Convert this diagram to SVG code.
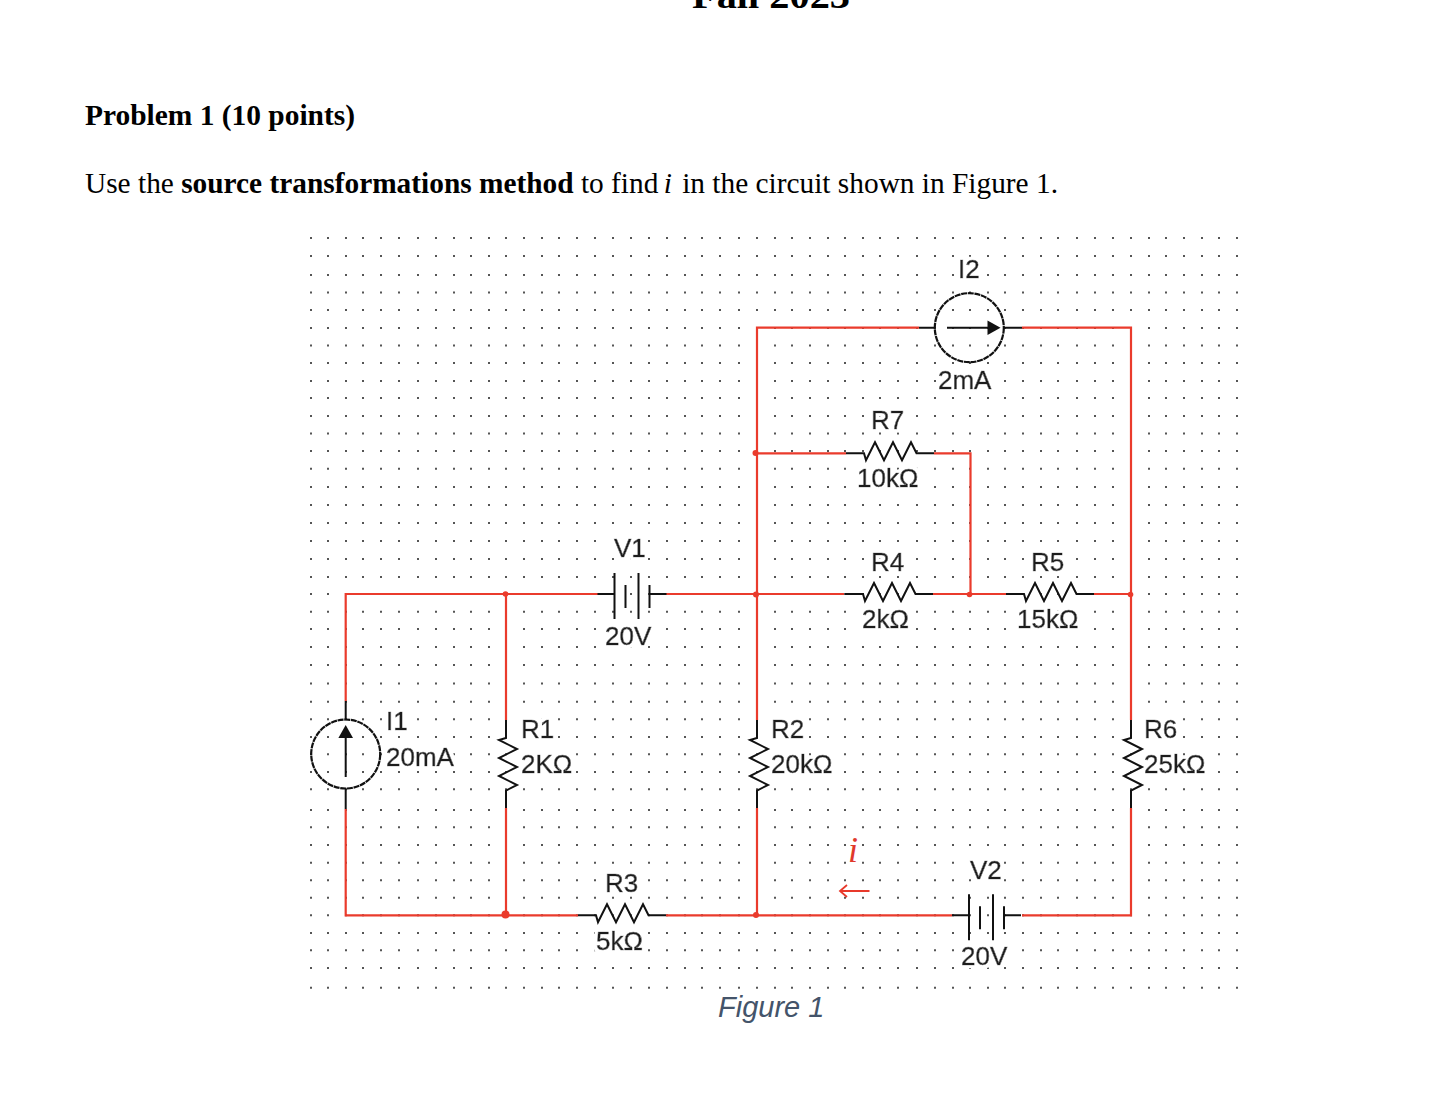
<svg xmlns="http://www.w3.org/2000/svg" width="1448" height="1118" viewBox="0 0 1448 1118">
<style>
.h{font-family:"Liberation Serif","Times New Roman",serif;font-size:29px;fill:#000}
.b{font-weight:bold}
.l{font-family:"Liberation Sans",Arial,sans-serif;font-size:26px;fill:#1c1c1c;stroke:#1c1c1c;stroke-width:.6px;filter:url(#lbl)}
.w{fill:none;stroke:#ea3b2c;stroke-width:2.2}
.k{fill:none;stroke:#111;stroke-width:2}
.c{fill:none;stroke:#111;stroke-width:2.200;stroke-dasharray:6 .7}
.j{fill:#ea3b2c}
.a{fill:#111}
</style>
<defs>
<filter id="lbl" x="-15%" y="-25%" width="130%" height="150%">
<feMorphology in="SourceAlpha" operator="dilate" radius="2.500" result="d"/>
<feFlood flood-color="#fff"/>
<feComposite in2="d" operator="in" result="halo"/>
<feGaussianBlur in="SourceGraphic" stdDeviation=".45" result="t"/>
<feMerge><feMergeNode in="halo"/><feMergeNode in="t"/></feMerge>
</filter>
<path id="dotrow" fill="none" stroke="#555" stroke-width="2" d="M310 0h2M327 0h2M345 0h2M362 0h2M380 0h2M398 0h2M417 0h2M435 0h2M453 0h2M470 0h2M488 0h2M505 0h2M523 0h2M541 0h2M558 0h2M576 0h2M594 0h2M612 0h2M630 0h2M648 0h2M666 0h2M684 0h2M701 0h2M719 0h2M738 0h2M756 0h2M774 0h2M791 0h2M809 0h2M827 0h2M844 0h2M862 0h2M879 0h2M897 0h2M916 0h2M934 0h2M952 0h2M969 0h2M987 0h2M1004 0h2M1022 0h2M1040 0h2M1057 0h2M1076 0h2M1094 0h2M1112 0h2M1130 0h2M1148 0h2M1165 0h2M1183 0h2M1201 0h2M1218 0h2M1236 0h2"/>
<path id="res" class="k" d="M-44 0H-26L-24 7L-15 -11L-6 7L3 -11L12 7L21 -11L26.500 0H44"/>
<path id="bat" class="k" d="M0 0H17M17 -21V25M28 -9V14M41 -21V25M52 -9V14M52 0H69"/>
</defs>
<text class="h b" x="692" y="8" style="font-size:36px" textLength="158" lengthAdjust="spacingAndGlyphs">Fall 2023</text>
<text class="h b" x="85" y="125" textLength="270" lengthAdjust="spacingAndGlyphs">Problem 1 (10 points)</text>
<text class="h" x="85" y="193" textLength="973" lengthAdjust="spacingAndGlyphs">Use the <tspan class="b">source transformations method</tspan> to find <tspan font-style="italic" dx="-2">i</tspan><tspan dx="3"> in the circuit shown in Figure 1.</tspan></text>
<g id="grid">
<use href="#dotrow" y="238"/><use href="#dotrow" y="256"/><use href="#dotrow" y="275"/><use href="#dotrow" y="292.600"/><use href="#dotrow" y="310"/><use href="#dotrow" y="328"/><use href="#dotrow" y="345.400"/><use href="#dotrow" y="363"/><use href="#dotrow" y="381"/><use href="#dotrow" y="398"/><use href="#dotrow" y="416"/><use href="#dotrow" y="433.400"/><use href="#dotrow" y="451"/><use href="#dotrow" y="468.700"/><use href="#dotrow" y="487"/><use href="#dotrow" y="505"/><use href="#dotrow" y="523"/><use href="#dotrow" y="541"/><use href="#dotrow" y="559"/><use href="#dotrow" y="577"/><use href="#dotrow" y="594"/><use href="#dotrow" y="611.700"/><use href="#dotrow" y="629"/><use href="#dotrow" y="647"/><use href="#dotrow" y="665"/><use href="#dotrow" y="683.400"/><use href="#dotrow" y="701.700"/><use href="#dotrow" y="719.300"/><use href="#dotrow" y="737"/><use href="#dotrow" y="754.300"/><use href="#dotrow" y="772"/><use href="#dotrow" y="789.300"/><use href="#dotrow" y="810"/><use href="#dotrow" y="827.300"/><use href="#dotrow" y="845"/><use href="#dotrow" y="862.700"/><use href="#dotrow" y="880.300"/><use href="#dotrow" y="897.700"/><use href="#dotrow" y="915.300"/><use href="#dotrow" y="933"/><use href="#dotrow" y="950.300"/><use href="#dotrow" y="968"/><use href="#dotrow" y="987.700"/>
</g>
<g id="labels">
<text class="l" x="386" y="730">I1</text><text class="l" x="386" y="766">20mA</text>
<text class="l" x="521" y="738">R1</text><text class="l" x="521" y="773">2KΩ</text>
<text class="l" x="771" y="738">R2</text><text class="l" x="771" y="773">20kΩ</text>
<text class="l" x="1144" y="738">R6</text><text class="l" x="1144" y="773">25kΩ</text>
<text class="l" x="605" y="892">R3</text><text class="l" x="596" y="950">5kΩ</text>
<text class="l" x="871" y="571">R4</text><text class="l" x="862" y="628">2kΩ</text>
<text class="l" x="1031" y="571">R5</text><text class="l" x="1017" y="628">15kΩ</text>
<text class="l" x="871" y="429">R7</text><text class="l" x="857" y="487">10kΩ</text>
<text class="l" x="614" y="557">V1</text><text class="l" x="605" y="645">20V</text>
<text class="l" x="970" y="879">V2</text><text class="l" x="961" y="965">20V</text>
<text class="l" x="958" y="278">I2</text><text class="l" x="938" y="389">2mA</text>
</g>
<g id="connectors">
<path class="w" d="M345.700 701V594H598M666 594H844M933 594H1006M1094 594H1131"/>
<path class="w" d="M345.700 809V915.300H578M666 915.300H952M1022 915.300H1131V808M1131 720V327.700H1022M919 327.700H757V720M757 808V915.300"/>
<path class="w" d="M506 594V720M506 808V915.300"/>
<path class="w" d="M757 453.300H846M934 453.300H970.500V594"/>
<circle class="j" cx="505.500" cy="594" r="2.800"/><circle class="j" cx="505.500" cy="914.500" r="4"/><circle class="j" cx="755.500" cy="453" r="3"/><circle class="j" cx="756" cy="594.500" r="3"/><circle class="j" cx="756" cy="915" r="3"/><circle class="j" cx="969.500" cy="594.500" r="2.800"/><circle class="j" cx="1130.500" cy="594.500" r="2.800"/>
</g>
<g id="I1"><path class="k" d="M345.700 701V719M345.700 789V809M345.700 777V735"/><circle class="c" cx="345.700" cy="754" r="34.500"/><path class="a" d="M345.700 725L353 738H338.400Z"/></g>
<g id="R1"><use href="#res" transform="translate(506 764) rotate(90)"/></g>
<g id="R2"><use href="#res" transform="translate(757 764) rotate(90)"/></g>
<g id="R6"><use href="#res" transform="translate(1131 764) rotate(90)"/></g>
<g id="R3"><use href="#res" x="622" y="915.300"/></g>
<g id="R4"><use href="#res" x="889" y="594"/></g>
<g id="R5"><use href="#res" x="1050" y="594"/></g>
<g id="R7"><use href="#res" x="890" y="453.300"/></g>
<g id="V1"><use href="#bat" x="597.500" y="594"/></g>
<g id="V2"><use href="#bat" x="952" y="915.300"/></g>
<g id="I2"><path class="k" d="M919 327.700H935M1004 327.700H1022M947 327.700H990"/><circle class="c" cx="969.300" cy="327.700" r="34.500"/><path class="a" d="M1000.500 327.700L987.500 320.500V335Z"/></g>
<g id="current"><text x="848" y="862" style="font-family:'Liberation Serif',serif;font-style:italic;font-size:36px;fill:#e0392b">i</text><path fill="none" stroke="#e8392b" stroke-width="1.800" d="M869.500 891H840M847 885L840 891L847 897"/></g>
<text x="718" y="1017" style="font-family:'Liberation Sans',Arial,sans-serif;font-style:italic;font-size:29px;fill:#44546a">Figure 1</text>
</svg>
